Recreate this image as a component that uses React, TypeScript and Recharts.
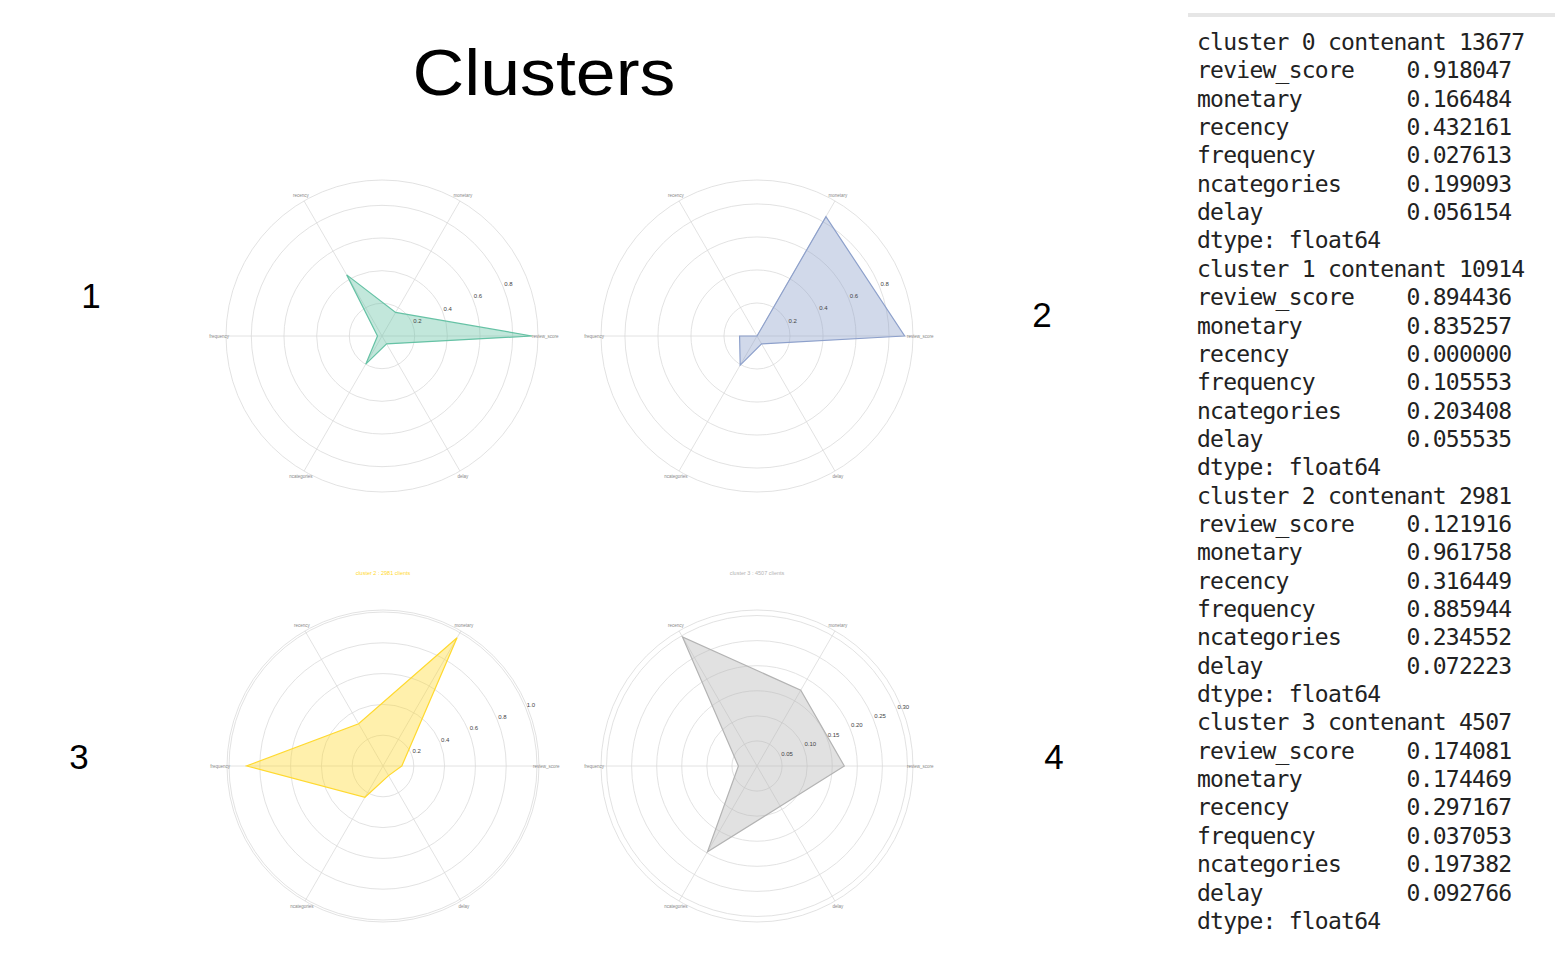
import {
  PolarAngleAxis,
  PolarGrid,
  PolarRadiusAxis,
  Radar,
  RadarChart,
} from "recharts";

const features = [
  "review_score",
  "monetary",
  "recency",
  "frequency",
  "ncategories",
  "delay",
];
const clusterSizes = [13677, 10914, 2981, 4507];
const cluster0 = [0.918047, 0.166484, 0.432161, 0.027613, 0.199093, 0.056154];
const cluster1 = [0.894436, 0.835257, 0.0, 0.105553, 0.203408, 0.055535];
const cluster2 = [0.121916, 0.961758, 0.316449, 0.885944, 0.234552, 0.072223];
const cluster3 = [0.174081, 0.174469, 0.297167, 0.037053, 0.197382, 0.092766];
const clusters = [cluster0, cluster1, cluster2, cluster3];

// the chart runs clockwise, so walk the features backwards from review_score
const drawOrder = [0, 5, 4, 3, 2, 1];

// radial ticks; the last one is the (unlabelled) outer ring
const ticks0 = [0, 0.2, 0.4, 0.6, 0.8, 0.955];
const ticks1 = [0, 0.2, 0.4, 0.6, 0.8, 0.945];
const ticks2 = [0, 0.2, 0.4, 0.6, 0.8, 1.0, 1.013];
const ticks3 = [0, 0.05, 0.1, 0.15, 0.2, 0.25, 0.3, 0.311];
const tickDigits = [1, 1, 1, 2];

const C = {
  green: "#66c2a5",
  blue: "#8da0cb",
  yellow: "#ffd92f",
  gray: "#b3b3b3",
  grid: "#dadada",
  text: "#222",
};

const panels = [
  { data: cluster0, ticks: ticks0, color: C.green, cx: 382, cy: 336, title: "" },
  { data: cluster1, ticks: ticks1, color: C.blue, cx: 757, cy: 336, title: "" },
  {
    data: cluster2,
    ticks: ticks2,
    color: C.yellow,
    cx: 383,
    cy: 766,
    title: "cluster 2 : 2981 clients",
  },
  {
    data: cluster3,
    ticks: ticks3,
    color: C.gray,
    cx: 757,
    cy: 766,
    title: "cluster 3 : 4507 clients",
  },
];

const SIZE = 400;
const R = 156;

function AngleTick(p: any) {
  const c = Math.cos((p.payload.coordinate * Math.PI) / 180);
  let anchor = "middle";
  let dx = 0;
  if (c > 0.99) {
    anchor = "start";
    dx = -12;
  } else if (c < -0.99) {
    anchor = "end";
    dx = 9;
  }
  return (
    <text
      x={p.x}
      y={p.y}
      dx={dx}
      textAnchor={anchor}
      dominantBaseline="central"
      fontSize={4.5}
      fill="#888"
      fontFamily="Liberation Sans, Arial, sans-serif"
    >
      {p.payload.value}
    </text>
  );
}

function makeRadiusTick(ticks: number[], digits: number) {
  const max = ticks[ticks.length - 1];
  return (p: any) => {
    const v = p.payload.value;
    if (v === 0 || v === max) return <g />;
    return (
      <text
        x={p.x}
        y={p.y}
        dx={1}
        dy={-1}
        textAnchor="start"
        fontSize={6}
        fill="#444"
        fontFamily="Liberation Sans, Arial, sans-serif"
      >
        {v.toFixed(digits)}
      </text>
    );
  };
}

function ClusterRadar({ idx }: { idx: number }) {
  const p = panels[idx];
  const rows = drawOrder.map((i) => ({ axis: features[i], value: p.data[i] }));
  const max = p.ticks[p.ticks.length - 1];
  return (
    <div
      style={{
        position: "absolute",
        left: p.cx - SIZE / 2,
        top: p.cy - SIZE / 2,
        width: SIZE,
        height: SIZE,
      }}
    >
      <RadarChart
        width={SIZE}
        height={SIZE}
        data={rows}
        cx={SIZE / 2}
        cy={SIZE / 2}
        outerRadius={R}
        startAngle={0}
        endAngle={-360}
        margin={{ top: 0, right: 0, bottom: 0, left: 0 }}
      >
        <PolarGrid gridType="circle" stroke={C.grid} strokeWidth={0.8} />
        <PolarAngleAxis
          dataKey="axis"
          tickLine={false}
          axisLine={false}
          tickSize={6}
          tick={AngleTick}
        />
        <PolarRadiusAxis
          type="number"
          angle={22}
          domain={[0, max]}
          allowDataOverflow
          tickCount={0}
          ticks={p.ticks}
          axisLine={false}
          tickLine={false}
          tick={makeRadiusTick(p.ticks, tickDigits[idx])}
        />
        <Radar
          dataKey="value"
          stroke={p.color}
          strokeWidth={1.2}
          fill={p.color}
          fillOpacity={0.4}
          dot={false}
          isAnimationActive={false}
        />
      </RadarChart>
    </div>
  );
}

const listLines: string[] = [];
clusters.forEach((vals, k) => {
  listLines.push(`cluster ${k} contenant ${clusterSizes[k]}`);
  features.forEach((f, i) => listLines.push(f.padEnd(16) + vals[i].toFixed(6)));
  listLines.push("dtype: float64");
});

const numberLabels = [
  { t: "1", x: 91, y: 308 },
  { t: "2", x: 1042, y: 327 },
  { t: "3", x: 79, y: 769 },
  { t: "4", x: 1054, y: 769 },
];

export default function App() {
  return (
    <div
      style={{
        position: "absolute",
        left: 0,
        top: 0,
        width: 1568,
        height: 972,
        background: "#fff",
        overflow: "hidden",
      }}
    >
      <svg
        width={1568}
        height={972}
        style={{ position: "absolute", left: 0, top: 0 }}
      >
        <text
          x={544}
          y={95}
          textAnchor="middle"
          fontSize={64}
          fill="#000"
          fontFamily="Liberation Sans, Arial, sans-serif"
          transform="translate(544 0) scale(1.12 1) translate(-544 0)"
        >
          Clusters
        </text>
        {numberLabels.map((n) => (
          <text
            key={n.t}
            x={n.x}
            y={n.y}
            textAnchor="middle"
            fontSize={35}
            fill="#000"
            fontFamily="Liberation Sans, Arial, sans-serif"
          >
            {n.t}
          </text>
        ))}
        {panels.map((p, i) =>
          p.title ? (
            <text
              key={i}
              x={p.cx}
              y={575}
              textAnchor="middle"
              fontSize={5.5}
              fill={p.color}
              fontFamily="Liberation Sans, Arial, sans-serif"
            >
              {p.title}
            </text>
          ) : null
        )}
        <rect x={1188} y={13} width={367} height={4} fill="#e6e6e6" />
        {listLines.map((l, i) => (
          <text
            key={i}
            x={1197}
            y={50 + i * 28.35}
            fontSize={23}
            letterSpacing={-0.75}
            fill={C.text}
            fontFamily="DejaVu Sans Mono, monospace"
            style={{ whiteSpace: "pre" }}
          >
            {l}
          </text>
        ))}
      </svg>
      {panels.map((_, i) => (
        <ClusterRadar key={i} idx={i} />
      ))}
    </div>
  );
}
